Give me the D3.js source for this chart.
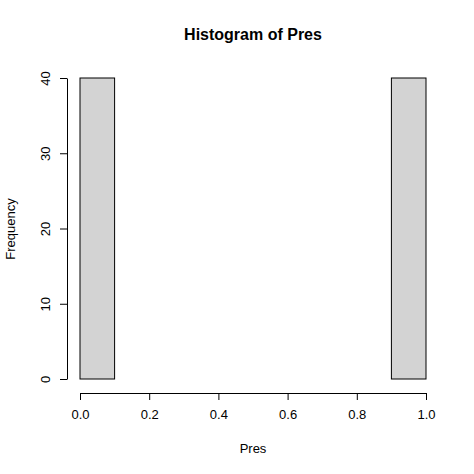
<!DOCTYPE html>
<html><head><script src="https://d3js.org/d3.v7.min.js"></script>
<style>body{margin:0;background:#fff}</style></head>
<body><script>
const binStarts=[0,0.1,0.2,0.3,0.4,0.5,0.6,0.7,0.8,0.9];
const counts=[40,0,0,0,0,0,0,0,0,40];
const xTicks=[0,0.2,0.4,0.6,0.8,1.0];
const yTicks=[0,10,20,30,40];
const W=474,H=474;
const svg=d3.select("body").append("svg").attr("width",W).attr("height",H).style("font-family","Liberation Sans, Arial, sans-serif");
const x=d3.scaleLinear().domain([0,1]).range([80,426]);
const y=d3.scaleLinear().domain([0,40]).range([379,78]);
svg.selectAll("rect").data(binStarts).enter().append("rect")
 .attr("x",d=>x(d)).attr("width",d=>x(d+0.1)-x(d))
 .attr("y",(d,i)=>y(counts[i])).attr("height",(d,i)=>y(0)-y(counts[i]))
 .attr("fill","#d3d3d3").attr("stroke","#000").attr("stroke-width",1);
const xa=svg.append("g").attr("transform","translate(0,393)")
 .call(d3.axisBottom(x).tickValues(xTicks).tickFormat(d3.format(".1f")).tickSize(7).tickSizeOuter(0));
const ya=svg.append("g").attr("transform","translate(67,0)")
 .call(d3.axisLeft(y).tickValues(yTicks).tickSize(7).tickSizeOuter(0));
[xa,ya].forEach(a=>{a.selectAll("text").attr("font-size",13).attr("fill","#000").style("font-family","Liberation Sans, Arial, sans-serif");a.select(".domain").attr("stroke","#000");a.selectAll("line").attr("stroke","#000");});
xa.selectAll("text").attr("dy","1.2em");
ya.selectAll("text").attr("transform",function(){return null;}).each(function(d){
 d3.select(this).attr("x",null).attr("dy",null).attr("text-anchor","middle")
 .attr("transform",`translate(-16,${y(d)-y(d)}) rotate(-90)`).attr("y",0);
});
ya.selectAll(".tick text").attr("transform","translate(-17,0) rotate(-90)").attr("dy","0");
svg.append("text").attr("x",253).attr("y",40).attr("text-anchor","middle").attr("font-size",16).attr("font-weight","bold").text("Histogram of Pres");
svg.append("text").attr("x",253).attr("y",453).attr("text-anchor","middle").attr("font-size",13).text("Pres");
svg.append("text").attr("transform","translate(15,229) rotate(-90)").attr("text-anchor","middle").attr("font-size",13).text("Frequency");
</script></body></html>
